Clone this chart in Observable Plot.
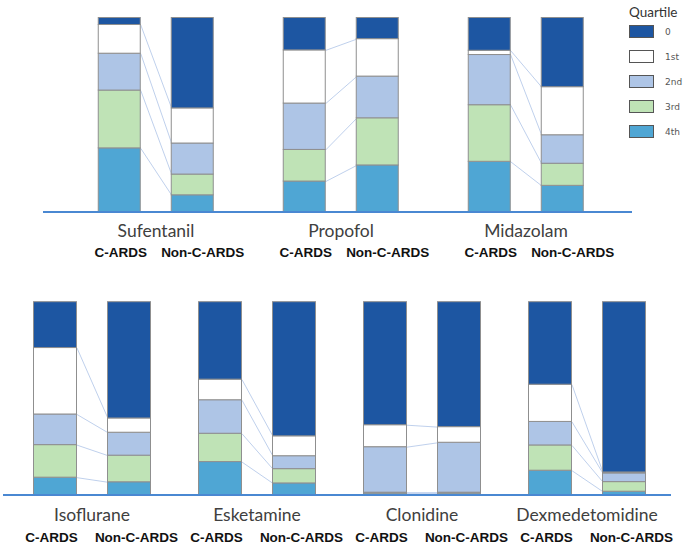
<!DOCTYPE html>
<html><head><meta charset="utf-8">
<script src="https://cdn.jsdelivr.net/npm/d3@7"></script>
<script src="https://cdn.jsdelivr.net/npm/@observablehq/plot@0.6"></script>
<style>
body{margin:0;background:#fff;width:685px;height:546px;position:relative;overflow:hidden;font-family:Lato,sans-serif}
#top{position:absolute;left:0;top:0}
#bottom{position:absolute;left:0;top:285px}
#legend{position:absolute;left:629px;top:0;width:56px;height:150px}
.lt{position:absolute;left:0;top:4px;font:13.5px Lato,sans-serif;color:#333}
.lr{position:absolute;left:0;height:25px;display:flex;align-items:center}
.sw{display:inline-block;width:23px;height:11px;border:1.5px solid #555}
.ll{margin-left:11px;font:9px "DejaVu Sans",sans-serif;color:#555}
</style></head><body>
<div id="top"></div><div id="bottom"></div><div id="legend"></div>
<script>
// ---- data (percent of patients per quartile: 0, 1st, 2nd, 3rd, 4th) ----
const groups = ["C-ARDS", "Non-C-ARDS"];
const quartiles = ["0", "1st", "2nd", "3rd", "4th"];
const colors = ["#1d56a2", "#ffffff", "#aec5e6", "#bfe3b6", "#4fa6d4"];
const drugsTop = ["Sufentanil", "Propofol", "Midazolam"];
const drugsBottom = ["Isoflurane", "Esketamine", "Clonidine", "Dexmedetomidine"];

const sufentanil = {"C-ARDS": [3.6, 14.8, 19.0, 29.8, 32.8], "Non-C-ARDS": [46.6, 18.1, 16.0, 10.7, 8.6]};
const propofol = {"C-ARDS": [16.7, 27.4, 23.9, 16.3, 15.7], "Non-C-ARDS": [10.9, 19.3, 21.5, 24.3, 24.0]};
const midazolam = {"C-ARDS": [16.9, 2.2, 25.9, 29.2, 25.9], "Non-C-ARDS": [35.7, 24.8, 14.7, 11.4, 13.5]};
const isoflurane = {"C-ARDS": [23.8, 34.5, 15.9, 16.9, 9.0], "Non-C-ARDS": [60.3, 7.4, 11.9, 13.8, 6.6]};
const esketamine = {"C-ARDS": [40.2, 10.7, 17.4, 14.7, 17.1], "Non-C-ARDS": [69.5, 10.3, 6.7, 7.4, 6.0]};
const clonidine = {"C-ARDS": [63.8, 11.4, 23.6, 0.5, 0.7], "Non-C-ARDS": [64.8, 8.1, 25.9, 0.5, 0.7]};
const dexmedetomidine = {"C-ARDS": [42.8, 19.3, 12.2, 13.1, 12.6], "Non-C-ARDS": [88.4, 0.5, 4.5, 5.0, 1.7]};

const data = {
  Sufentanil: sufentanil, Propofol: propofol, Midazolam: midazolam,
  Isoflurane: isoflurane, Esketamine: esketamine, Clonidine: clonidine, Dexmedetomidine: dexmedetomidine
};

function makeRow(drugs, o) {
  const rows = [];
  for (const drug of drugs) for (const g of groups) {
    const v = data[drug][g], t = d3.sum(v);
    // bottom-up stacking order: 4th first
    for (let i = quartiles.length - 1; i >= 0; i--) rows.push({drug, group: g, quartile: quartiles[i], share: v[i] / t});
  }
  const links = [];
  for (const drug of drugs) {
    const c = data[drug]["C-ARDS"], n = data[drug]["Non-C-ARDS"];
    for (let k = 1; k < quartiles.length; k++) {
      links.push({drug, g1: "C-ARDS", g2: "Non-C-ARDS",
        y1: d3.sum(c.slice(k)) / d3.sum(c), y2: d3.sum(n.slice(k)) / d3.sum(n)});
    }
  }
  const labels = [];
  for (const drug of drugs) for (const g of groups) labels.push({drug, group: g});
  const labelStyle = {fx: "drug", x: "group", text: "group", frameAnchor: "bottom", lineAnchor: "middle", dy: o.dyG,
    fontSize: 13.5, fontWeight: "bold", fill: "#111", fontFamily: "Liberation Sans, Arial, sans-serif"};
  return Plot.plot({
    width: 685, height: o.height,
    marginTop: o.marginTop, marginBottom: o.marginBottom, marginLeft: o.marginLeft, marginRight: o.marginRight,
    style: {fontFamily: "Lato, sans-serif", background: "transparent"},
    fx: {domain: drugs, padding: 0, axis: null},
    x: {domain: groups, paddingInner: 0.419, paddingOuter: o.paddingOuter, axis: null},
    y: {domain: [0, 1], axis: null},
    color: {domain: quartiles, range: colors},
    marks: [
      Plot.link(links, {
        fx: "drug", x1: "g1", x2: "g2", y1: "y1", y2: "y2", stroke: "#b8cbea", strokeWidth: 0.9,
        render(index, scales, values, dimensions, context, next) {
          const bw = scales.x && scales.x.bandwidth ? scales.x.bandwidth() : 0;
          const X1 = Float64Array.from(values.x1, v => v + bw / 2);
          const X2 = Float64Array.from(values.x2, v => v - bw / 2);
          return next(index, scales, {...values, x1: X1, x2: X2}, dimensions, context);
        }
      }),
      Plot.barY(rows, Plot.stackY({
        fx: "drug", x: "group", y: "share", z: "quartile", fill: "quartile",
        stroke: "#8f8f8f", strokeWidth: 1, order: null
      })),
      Plot.ruleY([0], {stroke: "#4a88d2", strokeWidth: 2, insetLeft: o.extL, insetRight: o.extR}),
      Plot.text(drugs, {fx: d => d, text: d => d, frameAnchor: "bottom", lineAnchor: "middle", dy: o.dyD, fontSize: 17.5, fill: "#404040"}),
      Plot.text(labels.filter(d => d.group === "C-ARDS"), {...labelStyle, dx: o.dxC}),
      Plot.text(labels.filter(d => d.group === "Non-C-ARDS"), {...labelStyle, dx: o.dxN})
    ]
  });
}

document.getElementById("top").append(makeRow(drugsTop, {
  height: 262, marginTop: 17.5, marginBottom: 50.5, marginLeft: 61.75, marginRight: 66.75,
  paddingOuter: 0.463, extL: -20, extR: -14, dxC: 1, dxN: 10, dyD: 19, dyG: 40.5
}));
document.getElementById("bottom").append(makeRow(drugsBottom, {
  height: 261, marginTop: 16.7, marginBottom: 51.5, marginLeft: 8.5, marginRight: 16.5,
  paddingOuter: 0.324, extL: -6, extR: -2, dxC: -4, dxN: 7, dyD: 20, dyG: 42.5
}));

// legend
const legend = document.getElementById("legend");
let html = `<div class="lt">Quartile</div>`;
quartiles.forEach((q, i) => {
  html += `<div class="lr" style="top:${19 + i * 25}px"><span class="sw" style="background:${colors[i]}"></span><span class="ll">${q}</span></div>`;
});
legend.innerHTML = html;
</script></body></html>
